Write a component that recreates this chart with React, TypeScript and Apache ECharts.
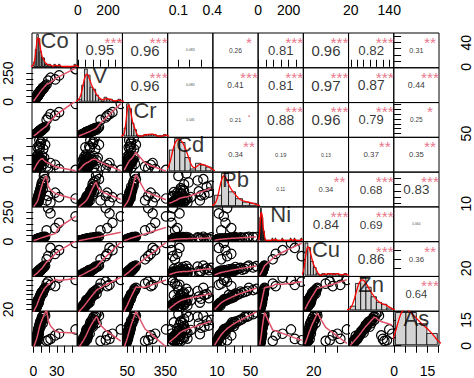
import React, { useEffect, useRef } from "react";
import * as echarts from "echarts";

// ---------------- data (one value per sample, same sample order in every array) ----------------
const VARS = ["Co", "V", "Cr", "Cd", "Pb", "Ni", "Cu", "Zn", "As"];

const Co = [3.2, 4.1, 5.0, 1.2, 6.2, 7.1, 3.8, 8.4, 5.6, 9.3, 4.6, 6.8, 3.0, 10.5, 7.7, 5.3, 12.1, 4.4, 6.5, 8.9,
  0.5, 5.9, 7.4, 3.5, 11.2, 6.0, 4.9, 9.8, 13.5, 3.3, 7.9, 5.1, 6.3, 4.2, 8.1, 15.2, 5.7, 2.8, 10.1, 6.7,
  4.7, 7.3, 12.8, 3.9, 8.6, 5.4, 9.6, 6.1, 14.0, 4.0, 7.0, 11.6, 5.5, 8.0, 54, 28, 19, 17, 33, 22];
const V = [36, 41, 58, 22, 55, 78, 34, 80, 61, 99, 45, 62, 31, 97, 82, 50, 124, 47, 66, 84,
  6, 54, 75, 39, 104, 63, 46, 102, 120, 30, 73, 57, 60, 48, 86, 140, 52, 26, 106, 70,
  43, 71, 116, 37, 90, 49, 93, 67, 132, 42, 65, 110, 59, 76, 285, 195, 185, 150, 230, 210];
const Cr = [45, 44, 51, 39, 66, 62, 48, 81, 52, 77, 55, 70, 35, 95, 65, 58, 90, 43, 57, 83,
  25, 63, 72, 40, 98, 55, 54, 80, 110, 42, 76, 50, 67, 46, 70, 118, 60, 34, 84, 61,
  51, 74, 103, 47, 73, 61, 88, 59, 106, 49, 68, 100, 53, 78, 355, 235, 215, 190, 270, 250];
const Cd = [0.06, 0.09, 0.12, 0.04, 0.21, 0.08, 0.15, 0.28, 0.05, 0.33, 0.11, 0.18, 0.03, 0.15, 0.37, 0.07, 0.14, 0.10, 0.06, 0.12,
  0.02, 0.13, 0.30, 0.09, 0.19, 0.16, 0.05, 0.35, 0.10, 0.12, 0.16, 0.08, 0.14, 0.07, 0.11, 0.32, 0.17, 0.04, 0.06, 0.10,
  0.14, 0.09, 0.27, 0.03, 0.15, 0.29, 0.12, 0.07, 0.17, 0.18, 0.10, 0.39, 0.05, 0.13, 0.03, 0.09, 0.05, 0.07, 0.04, 0.11];
const Pb = [11, 9.5, 15, 8.5, 20, 14.5, 12.5, 29, 11.5, 24, 14, 18, 8, 40, 27, 12, 32, 10, 13.5, 31,
  7, 16.5, 23, 9, 43, 19, 11, 36, 53, 10.5, 18.5, 14, 22, 10, 26, 48, 16, 9, 28, 17,
  13, 21, 46, 9.5, 30, 15, 34, 13, 57, 12, 20, 38, 12.5, 25, 18, 27, 22, 15, 20, 12];
const Ni = [16, 15, 22, 11, 19, 26, 14, 30, 18, 25, 20, 24, 12, 29, 23, 21, 37, 17, 20, 31,
  10, 18, 27, 13, 34, 19, 19, 28, 38, 15, 25, 17, 23, 14, 28, 41, 21, 11, 32, 22,
  16, 26, 35, 13, 29, 20, 27, 22, 39, 16, 24, 36, 18, 27, 215, 115, 285, 95, 160, 240];
const Cu = [8, 7, 12, 5, 10, 15, 9, 14, 13, 18, 8, 11, 6, 17, 16, 9, 23, 10, 12, 15,
  5, 10, 14, 7, 19, 12, 8, 20, 22, 6, 16, 11, 11, 9, 13, 26, 10, 5, 19, 14,
  8, 13, 24, 7, 17, 11, 18, 12, 25, 8, 14, 21, 10, 15, 76, 52, 47, 40, 60, 65];
const Zn = [31, 28, 47, 20, 58, 49, 38, 72, 40, 79, 35, 60, 23, 88, 66, 42, 84, 32, 45, 75,
  18, 53, 64, 27, 91, 57, 37, 82, 99, 30, 61, 44, 59, 33, 67, 108, 50, 21, 78, 52,
  41, 62, 95, 29, 70, 48, 80, 46, 104, 36, 56, 93, 43, 65, 140, 115, 133, 125, 149, 120];
const As = [3.4, 2.2, 6.1, 1.0, 9.2, 7.0, 4.5, 12.9, 3.9, 11.1, 5.8, 7.6, 1.3, 15.6, 11.8, 4.7, 13.2, 2.8, 5.5, 14.0,
  0.6, 7.7, 10.5, 1.8, 16.8, 8.9, 3.6, 14.7, 18.4, 2.7, 9.6, 6.3, 9.9, 2.5, 12.2, 17.5, 7.3, 1.5, 13.6, 8.4,
  4.9, 10.1, 17.0, 2.3, 11.4, 6.8, 14.3, 6.0, 19.4, 4.2, 8.7, 15.1, 5.1, 10.8, 9.5, 6.0, 3.2, 2.8, 7.0, 4.0];

const DATA = [Co, V, Cr, Cd, Pb, Ni, Cu, Zn, As];

// correlation coefficients and significance stars (upper triangle, row by row)
const CORR_TEXT = [
  ["0.95", "0.96", "0.083", "0.26", "0.81", "0.96", "0.82", "0.31"],
  ["0.96", "0.080", "0.41", "0.81", "0.97", "0.87", "0.44"],
  ["0.046", "0.21", "0.88", "0.96", "0.79", "0.25"],
  ["0.34", "0.19", "0.13", "0.37", "0.35"],
  ["0.11", "0.34", "0.68", "0.83"],
  ["0.84", "0.69", "0.060"],
  ["0.86", "0.36"],
  ["0.64"],
];
const CORR_STARS = [
  ["***", "***", "", "*", "***", "***", "***", "**"],
  ["***", "", "***", "***", "***", "***", "***"],
  ["", ".", "***", "***", "***", "*"],
  ["**", "", "", "**", "**"],
  ["", "**", "***", "***"],
  ["***", "***", ""],
  ["***", "**"],
  ["***"],
];

// axis ticks and the tick labels shown on each side
const TICKS = [
  [0, 10, 20, 30, 40, 50],
  [0, 50, 100, 150, 200, 250],
  [50, 100, 150, 200, 250, 300, 350],
  [0.1, 0.2, 0.3, 0.4],
  [10, 20, 30, 40, 50],
  [0, 50, 100, 150, 200, 250],
  [20, 40, 60],
  [20, 40, 60, 80, 100, 120, 140],
  [0, 5, 10, 15, 20],
];
const TOP_LABELS = [[], [0, 200], [], [0.1, 0.4], [], [0, 200], [], [20, 140], []];
const BOTTOM_LABELS = [[0, 30], [], [50, 350], [], [10, 50], [], [20], [], [0, 15]];
const LEFT_LABELS = [[], [0, 250], [], [0.1], [], [0, 250], [], [20], []];
const RIGHT_LABELS = [[0, 40], [], [50], [], [10], [], [20], [], [0, 15]];

// ---------------- layout ----------------
const L = 32, T = 33, PW = 407 / 9, PH = 313 / 9;
const FONT = "'Liberation Sans', Arial, Helvetica, sans-serif";
const RED2 = "#DF536B";

// ---------------- statistics (as R does it) ----------------
function sorted(v: number[]) { return [...v].sort((a, b) => a - b); }
function q7(s: number[], p: number) {
  const h = (s.length - 1) * p; const lo = Math.floor(h);
  return s[lo] + (h - lo) * (s[Math.min(lo + 1, s.length - 1)] - s[lo]);
}
function padRange(v: number[]): [number, number] {
  const lo = Math.min(...v), hi = Math.max(...v); const d = (hi - lo) * 0.04;
  return [lo - d, hi + d];
}
function rPretty(lo: number, hi: number, ndiv: number): number[] {
  const h = 1.5, h5 = 0.5 + 1.5 * h;
  const dx = hi - lo;
  let cell = dx; if (ndiv > 1) cell /= ndiv;
  if (cell <= 0) cell = 1;
  const base = Math.pow(10, Math.floor(Math.log10(cell)));
  let unit = base, ns;
  if ((ns = 2 * base) - cell < h * (cell - unit)) {
    unit = ns;
    if ((ns = 5 * base) - cell < h5 * (cell - unit)) {
      unit = ns;
      if ((ns = 10 * base) - cell < h * (cell - unit)) unit = ns;
    }
  }
  let a = Math.floor(lo / unit + 1e-7), b = Math.ceil(hi / unit - 1e-7);
  while (a * unit > lo + 1e-10 * unit) a--;
  while (b * unit < hi - 1e-10 * unit) b++;
  if (b - a < 1) b = a + 1;
  const out: number[] = [];
  for (let k = a; k <= b; k++) out.push(Math.round(k * unit * 1e10) / 1e10);
  return out;
}
function histogram(v: number[]) {
  const s = sorted(v); const n = s.length;
  const iqr = q7(s, 0.75) - q7(s, 0.25);
  const h = 2 * iqr * Math.pow(n, -1 / 3);
  const nc = h > 0 ? Math.max(1, Math.ceil((s[n - 1] - s[0]) / h)) : 1;
  const br = rPretty(s[0], s[n - 1], nc);
  const counts = new Array(br.length - 1).fill(0);
  for (const x of v) {
    let k = 0;
    while (k < br.length - 2 && x > br[k + 1] + 1e-9) k++;
    counts[k]++;
  }
  const bins = counts.map((c, k) => [br[k], br[k + 1], c / (n * (br[k + 1] - br[k]))]);
  return { breaks: br, bins };
}
function density(v: number[]) {
  const n = v.length; const s = sorted(v);
  const mean = v.reduce((a, b) => a + b, 0) / n;
  const sd = Math.sqrt(v.reduce((a, b) => a + (b - mean) * (b - mean), 0) / (n - 1));
  const iqr = q7(s, 0.75) - q7(s, 0.25);
  let lo = Math.min(sd, iqr / 1.34); if (!(lo > 0)) lo = sd || Math.abs(s[0]) || 1;
  const bw = 0.9 * lo * Math.pow(n, -0.2);
  const from = s[0] - 3 * bw, to = s[n - 1] + 3 * bw, M = 300;
  const pts: number[][] = [];
  for (let k = 0; k < M; k++) {
    const t = from + (k * (to - from)) / (M - 1);
    let d = 0; for (const x of v) { const z = (t - x) / bw; d += Math.exp(-0.5 * z * z); }
    pts.push([t, d / (n * bw * Math.sqrt(2 * Math.PI))]);
  }
  return pts;
}
function lowess(xIn: number[], yIn: number[], f = 2 / 3, nsteps = 3): number[][] {
  const n = xIn.length;
  const ord = xIn.map((_, i) => i).sort((a, b) => xIn[a] - xIn[b] || a - b);
  const x = ord.map((i) => xIn[i]); const y = ord.map((i) => yIn[i]);
  const ns = Math.max(2, Math.min(n, Math.floor(f * n + 1e-7)));
  const range = x[n - 1] - x[0];
  const rw = new Array(n).fill(1); const ys = new Array(n).fill(0); const w = new Array(n).fill(0);
  for (let iter = 1; iter <= nsteps + 1; iter++) {
    let nleft = 0, nright = ns - 1;
    for (let i = 0; i < n; i++) {
      while (nright < n - 1) {
        const d1 = x[i] - x[nleft], d2 = x[nright + 1] - x[i];
        if (d1 <= d2) break;
        nleft++; nright++;
      }
      const xs = x[i];
      const h = Math.max(xs - x[nleft], x[nright] - xs);
      const h9 = 0.999 * h, h1 = 0.001 * h;
      let a = 0; let j = nleft;
      for (; j < n; j++) {
        w[j] = 0;
        const r = Math.abs(x[j] - xs);
        if (r <= h9) {
          w[j] = r <= h1 ? 1 : Math.pow(1 - Math.pow(r / h, 3), 3);
          if (iter > 1) w[j] *= rw[j];
          a += w[j];
        } else if (x[j] > xs) break;
      }
      const nrt = j - 1;
      if (a <= 0) { ys[i] = y[i]; continue; }
      for (let k = nleft; k <= nrt; k++) w[k] /= a;
      if (h > 0) {
        let aa = 0;
        for (let k = nleft; k <= nrt; k++) aa += w[k] * x[k];
        let b = xs - aa; let c = 0;
        for (let k = nleft; k <= nrt; k++) c += w[k] * (x[k] - aa) * (x[k] - aa);
        if (Math.sqrt(c) > 0.001 * range) {
          b /= c;
          for (let k = nleft; k <= nrt; k++) w[k] *= b * (x[k] - aa) + 1;
        }
      }
      let s = 0; for (let k = nleft; k <= nrt; k++) s += w[k] * y[k];
      ys[i] = s;
    }
    if (iter > nsteps) break;
    const res = y.map((v, i) => Math.abs(v - ys[i]));
    const sc = res.reduce((p, q) => p + q, 0) / n;
    const sr = sorted(res); const m1 = Math.floor(n / 2);
    const med = n % 2 === 0 ? (sr[m1 - 1] + sr[m1]) / 2 : sr[m1];
    const cmad = 6 * med;
    if (cmad < 1e-7 * sc) break;
    const c9 = 0.999 * cmad, c1 = 0.001 * cmad;
    for (let i = 0; i < n; i++) {
      const r = res[i];
      rw[i] = r <= c1 ? 1 : r <= c9 ? Math.pow(1 - (r / cmad) * (r / cmad), 2) : 0;
    }
  }
  return x.map((v, i) => [v, ys[i]]);
}
function textEm(t: string) {
  let w = 0; for (const ch of t) w += ch === "." ? 0.278 : ch === "-" ? 0.333 : 0.556; return w;
}

// ---------------- option ----------------
function buildOption() {
  const n = VARS.length;
  const ranges = DATA.map(padRange);
  const grid: any[] = [], xAxis: any[] = [], yAxis: any[] = [], series: any[] = [];
  const labelBase = { fontSize: 14, lineHeight: 12, color: "#000", fontFamily: FONT, hideOverlap: false, showMinLabel: true, showMaxLabel: true };
  const tickStyle = { color: "#000", width: 1 };
  const CEXW = 0.664 * PW;

  for (let i = 0; i < n; i++) {
    for (let j = 0; j < n; j++) {
      const k = i * n + j;
      grid.push({
        left: L + j * PW, top: T + i * PH, width: PW, height: PH, show: true,
        borderColor: "#000", borderWidth: 1, backgroundColor: "transparent",
        containLabel: false, outerBoundsMode: "none",
      });
      const isTop = i === 0 && j % 2 === 1, isBottom = i === n - 1 && j % 2 === 0;
      xAxis.push({
        type: "value", gridIndex: k, min: ranges[j][0], max: ranges[j][1],
        show: isTop || isBottom, position: isTop ? "top" : "bottom",
        axisLine: { show: false }, splitLine: { show: false },
        axisTick: { show: true, inside: false, length: 7, customValues: TICKS[j], lineStyle: tickStyle },
        axisLabel: { ...labelBase, show: true, customValues: isTop ? TOP_LABELS[j] : BOTTOM_LABELS[j], margin: isTop ? 17 : 19 },
      });
      const isLeft = j === 0 && i % 2 === 1, isRight = j === n - 1 && i % 2 === 0;
      yAxis.push({
        type: "value", gridIndex: k, min: ranges[i][0], max: ranges[i][1],
        show: isLeft || isRight, position: isLeft ? "left" : "right",
        axisLine: { show: false }, splitLine: { show: false },
        axisTick: { show: true, inside: false, length: 7, customValues: TICKS[i], lineStyle: tickStyle },
        axisLabel: { ...labelBase, show: true, rotate: 90, customValues: isLeft ? LEFT_LABELS[i] : RIGHT_LABELS[i], margin: isLeft ? 18 : 21 },
      });

      const [x0, x1] = ranges[j], [y0, y1] = ranges[i];
      if (i > j) {
        const pts = DATA[j].map((v, s) => [v, DATA[i][s]]);
        series.push({
          type: "custom", xAxisIndex: k, yAxisIndex: k, clip: true, silent: true, z: 3,
          data: pts,
          renderItem: (_p: any, api: any) => {
            const c = api.coord([api.value(0), api.value(1)]);
            return { type: "circle", shape: { cx: c[0], cy: c[1], r: 4.7 }, style: { fill: "none", stroke: "#000", lineWidth: 1.2 } };
          },
        });
        series.push({
          type: "line", xAxisIndex: k, yAxisIndex: k, clip: true, silent: true, z: 4,
          data: lowess(DATA[j], DATA[i]), showSymbol: false, symbol: "none",
          lineStyle: { color: RED2, width: 1.5 },
        });
      } else if (i < j) {
        const txt = CORR_TEXT[i][j - i - 1];
        const st = CORR_STARS[i][j - i - 1];
        const r = Math.abs(parseFloat(txt));
        const cex = CEXW / textEm(txt);
        const fs = cex * (r + 0.3) / 1.3;
        const data: any[] = [{
          value: [(x0 + x1) / 2, (y0 + y1) / 2],
          label: { formatter: txt, fontSize: fs, lineHeight: fs * 0.7, color: "#000", fontFamily: FONT },
        }];
        if (st) {
          data.push({
            value: [x0 + 0.8 * (x1 - x0), y0 + 0.73 * (y1 - y0)],
            label: { formatter: st, fontSize: cex, lineHeight: cex * 0.4, color: RED2, fontFamily: FONT },
          });
        }
        series.push({
          type: "scatter", xAxisIndex: k, yAxisIndex: k, silent: true, z: 6,
          symbolSize: 0.1, itemStyle: { color: "rgba(0,0,0,0)" },
          label: { show: true, position: "inside" }, data,
        });
      } else {
        series.push({
          type: "scatter", xAxisIndex: k, yAxisIndex: k, silent: true, z: 8,
          symbolSize: 0.1, itemStyle: { color: "rgba(0,0,0,0)" },
          label: { show: true, position: "inside", formatter: VARS[i], fontSize: 22, color: "#000", fontFamily: FONT },
          data: [[(x0 + x1) / 2, y0 + 0.78 * (y1 - y0)]],
        });
      }
    }
  }

  // histogram panels on the diagonal (own scales, like hist() with par(new = TRUE))
  for (let d = 0; d < n; d++) {
    const k = n * n + d;
    const hst = histogram(DATA[d]);
    const b0 = hst.breaks[0], b1 = hst.breaks[hst.breaks.length - 1];
    const maxD = Math.max(...hst.bins.map((b) => b[2]));
    grid.push({ left: L + d * PW, top: T + d * PH, width: PW, height: PH, show: false, containLabel: false, outerBoundsMode: "none" });
    xAxis.push({ type: "value", gridIndex: k, show: false, min: b0 - 0.04 * (b1 - b0), max: b1 + 0.04 * (b1 - b0), splitLine: { show: false } });
    yAxis.push({ type: "value", gridIndex: k, show: false, min: -0.04 * maxD, max: 1.04 * maxD, splitLine: { show: false } });
    series.push({
      type: "custom", xAxisIndex: k, yAxisIndex: k, clip: true, silent: true, z: 3,
      data: hst.bins, encode: { x: [0, 1], y: 2 },
      renderItem: (_p: any, api: any) => {
        const p0 = api.coord([api.value(0), 0]);
        const p1 = api.coord([api.value(1), api.value(2)]);
        return {
          type: "rect",
          shape: { x: p0[0], y: p1[1], width: p1[0] - p0[0], height: p0[1] - p1[1] },
          style: { fill: "#D3D3D3", stroke: "#000", lineWidth: 0.8 },
        };
      },
    });
    series.push({
      type: "line", xAxisIndex: k, yAxisIndex: k, clip: true, silent: true, z: 4,
      data: density(DATA[d]), showSymbol: false, symbol: "none",
      lineStyle: { color: "#FF0000", width: 1.3 },
    });
  }

  return { animation: false, backgroundColor: "#fff", grid, xAxis, yAxis, series };
}

export default function App() {
  const ref = useRef<HTMLDivElement>(null);
  useEffect(() => {
    const chart = echarts.init(ref.current as HTMLDivElement, null, { renderer: "svg" });
    chart.setOption(buildOption() as any);
    return () => chart.dispose();
  }, []);
  return (
    <div
      ref={ref}
      style={{ position: "absolute", left: 0, top: 0, width: 474, height: 378, background: "#fff" }}
    />
  );
}
